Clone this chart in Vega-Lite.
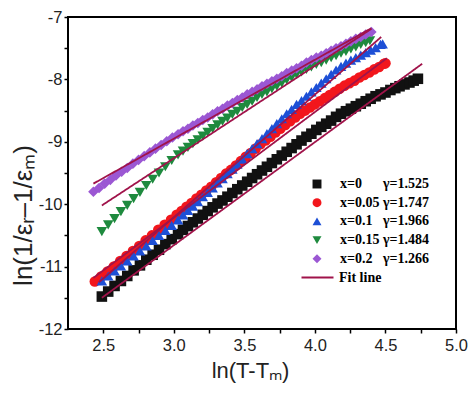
{
  "$schema": "https://vega.github.io/schema/vega-lite/v6.json",
  "width": 388,
  "height": 312,
  "autosize": {"type": "none"},
  "padding": {"left": 68, "top": 17, "right": 18, "bottom": 66},
  "background": "white",
  "config": {
    "view": {"stroke": "black", "strokeWidth": 2},
    "axis": {"domain": false, "grid": false}
  },
  "datasets": {
    "pts": [
      {"s":"x=0","x":2.49,"y":-11.48},{"s":"x=0","x":2.535,"y":-11.40},{"s":"x=0","x":2.58,"y":-11.31},{"s":"x=0","x":2.625,"y":-11.23},{"s":"x=0","x":2.67,"y":-11.15},{"s":"x=0","x":2.715,"y":-11.06},{"s":"x=0","x":2.76,"y":-10.98},{"s":"x=0","x":2.805,"y":-10.89},{"s":"x=0","x":2.85,"y":-10.81},{"s":"x=0","x":2.895,"y":-10.73},{"s":"x=0","x":2.94,"y":-10.64},{"s":"x=0","x":2.985,"y":-10.56},{"s":"x=0","x":3.03,"y":-10.48},{"s":"x=0","x":3.065,"y":-10.41},{"s":"x=0","x":3.10,"y":-10.35},{"s":"x=0","x":3.135,"y":-10.29},{"s":"x=0","x":3.17,"y":-10.23},{"s":"x=0","x":3.205,"y":-10.17},{"s":"x=0","x":3.24,"y":-10.11},{"s":"x=0","x":3.275,"y":-10.05},{"s":"x=0","x":3.31,"y":-9.99},{"s":"x=0","x":3.345,"y":-9.94},{"s":"x=0","x":3.38,"y":-9.88},{"s":"x=0","x":3.415,"y":-9.82},{"s":"x=0","x":3.45,"y":-9.76},{"s":"x=0","x":3.485,"y":-9.70},{"s":"x=0","x":3.52,"y":-9.64},{"s":"x=0","x":3.555,"y":-9.58},{"s":"x=0","x":3.59,"y":-9.52},{"s":"x=0","x":3.625,"y":-9.46},{"s":"x=0","x":3.66,"y":-9.40},{"s":"x=0","x":3.695,"y":-9.34},{"s":"x=0","x":3.73,"y":-9.28},{"s":"x=0","x":3.765,"y":-9.22},{"s":"x=0","x":3.80,"y":-9.16},{"s":"x=0","x":3.835,"y":-9.10},{"s":"x=0","x":3.87,"y":-9.04},{"s":"x=0","x":3.905,"y":-8.98},{"s":"x=0","x":3.94,"y":-8.92},{"s":"x=0","x":3.975,"y":-8.87},{"s":"x=0","x":4.01,"y":-8.81},{"s":"x=0","x":4.045,"y":-8.76},{"s":"x=0","x":4.08,"y":-8.71},{"s":"x=0","x":4.115,"y":-8.66},{"s":"x=0","x":4.15,"y":-8.60},{"s":"x=0","x":4.185,"y":-8.55},{"s":"x=0","x":4.22,"y":-8.51},{"s":"x=0","x":4.255,"y":-8.47},{"s":"x=0","x":4.29,"y":-8.43},{"s":"x=0","x":4.325,"y":-8.39},{"s":"x=0","x":4.36,"y":-8.35},{"s":"x=0","x":4.395,"y":-8.31},{"s":"x=0","x":4.43,"y":-8.27},{"s":"x=0","x":4.465,"y":-8.24},{"s":"x=0","x":4.50,"y":-8.21},{"s":"x=0","x":4.535,"y":-8.17},{"s":"x=0","x":4.57,"y":-8.14},{"s":"x=0","x":4.60,"y":-8.11},{"s":"x=0","x":4.635,"y":-8.08},{"s":"x=0","x":4.67,"y":-8.05},{"s":"x=0","x":4.70,"y":-8.02},{"s":"x=0","x":4.73,"y":-7.99},
      {"s":"x=0.05","x":2.44,"y":-11.24},{"s":"x=0.05","x":2.485,"y":-11.16},{"s":"x=0.05","x":2.53,"y":-11.08},{"s":"x=0.05","x":2.575,"y":-11.00},{"s":"x=0.05","x":2.62,"y":-10.91},{"s":"x=0.05","x":2.665,"y":-10.83},{"s":"x=0.05","x":2.71,"y":-10.75},{"s":"x=0.05","x":2.755,"y":-10.67},{"s":"x=0.05","x":2.80,"y":-10.58},{"s":"x=0.05","x":2.845,"y":-10.50},{"s":"x=0.05","x":2.89,"y":-10.41},{"s":"x=0.05","x":2.935,"y":-10.33},{"s":"x=0.05","x":2.98,"y":-10.25},{"s":"x=0.05","x":3.02,"y":-10.17},{"s":"x=0.05","x":3.055,"y":-10.11},{"s":"x=0.05","x":3.09,"y":-10.04},{"s":"x=0.05","x":3.125,"y":-9.98},{"s":"x=0.05","x":3.16,"y":-9.91},{"s":"x=0.05","x":3.195,"y":-9.85},{"s":"x=0.05","x":3.23,"y":-9.78},{"s":"x=0.05","x":3.265,"y":-9.72},{"s":"x=0.05","x":3.30,"y":-9.65},{"s":"x=0.05","x":3.335,"y":-9.58},{"s":"x=0.05","x":3.37,"y":-9.51},{"s":"x=0.05","x":3.405,"y":-9.45},{"s":"x=0.05","x":3.44,"y":-9.38},{"s":"x=0.05","x":3.475,"y":-9.31},{"s":"x=0.05","x":3.51,"y":-9.24},{"s":"x=0.05","x":3.545,"y":-9.18},{"s":"x=0.05","x":3.58,"y":-9.11},{"s":"x=0.05","x":3.615,"y":-9.04},{"s":"x=0.05","x":3.65,"y":-8.98},{"s":"x=0.05","x":3.685,"y":-8.92},{"s":"x=0.05","x":3.72,"y":-8.85},{"s":"x=0.05","x":3.755,"y":-8.79},{"s":"x=0.05","x":3.79,"y":-8.73},{"s":"x=0.05","x":3.825,"y":-8.67},{"s":"x=0.05","x":3.86,"y":-8.61},{"s":"x=0.05","x":3.895,"y":-8.55},{"s":"x=0.05","x":3.93,"y":-8.50},{"s":"x=0.05","x":3.965,"y":-8.45},{"s":"x=0.05","x":4.00,"y":-8.40},{"s":"x=0.05","x":4.035,"y":-8.35},{"s":"x=0.05","x":4.07,"y":-8.30},{"s":"x=0.05","x":4.105,"y":-8.25},{"s":"x=0.05","x":4.14,"y":-8.20},{"s":"x=0.05","x":4.175,"y":-8.15},{"s":"x=0.05","x":4.21,"y":-8.10},{"s":"x=0.05","x":4.245,"y":-8.06},{"s":"x=0.05","x":4.28,"y":-8.02},{"s":"x=0.05","x":4.315,"y":-7.97},{"s":"x=0.05","x":4.35,"y":-7.93},{"s":"x=0.05","x":4.385,"y":-7.89},{"s":"x=0.05","x":4.42,"y":-7.84},{"s":"x=0.05","x":4.455,"y":-7.80},{"s":"x=0.05","x":4.49,"y":-7.75},{"s":"x=0.05","x":4.50,"y":-7.74},
      {"s":"x=0.1","x":2.49,"y":-11.23},{"s":"x=0.1","x":2.535,"y":-11.15},{"s":"x=0.1","x":2.58,"y":-11.07},{"s":"x=0.1","x":2.625,"y":-10.99},{"s":"x=0.1","x":2.67,"y":-10.91},{"s":"x=0.1","x":2.715,"y":-10.83},{"s":"x=0.1","x":2.76,"y":-10.75},{"s":"x=0.1","x":2.805,"y":-10.67},{"s":"x=0.1","x":2.85,"y":-10.58},{"s":"x=0.1","x":2.895,"y":-10.50},{"s":"x=0.1","x":2.94,"y":-10.42},{"s":"x=0.1","x":2.985,"y":-10.34},{"s":"x=0.1","x":3.03,"y":-10.25},{"s":"x=0.1","x":3.065,"y":-10.17},{"s":"x=0.1","x":3.10,"y":-10.10},{"s":"x=0.1","x":3.135,"y":-10.03},{"s":"x=0.1","x":3.17,"y":-9.96},{"s":"x=0.1","x":3.205,"y":-9.88},{"s":"x=0.1","x":3.24,"y":-9.81},{"s":"x=0.1","x":3.275,"y":-9.74},{"s":"x=0.1","x":3.31,"y":-9.66},{"s":"x=0.1","x":3.345,"y":-9.59},{"s":"x=0.1","x":3.38,"y":-9.51},{"s":"x=0.1","x":3.415,"y":-9.44},{"s":"x=0.1","x":3.45,"y":-9.36},{"s":"x=0.1","x":3.485,"y":-9.28},{"s":"x=0.1","x":3.52,"y":-9.19},{"s":"x=0.1","x":3.555,"y":-9.11},{"s":"x=0.1","x":3.59,"y":-9.03},{"s":"x=0.1","x":3.625,"y":-8.95},{"s":"x=0.1","x":3.66,"y":-8.87},{"s":"x=0.1","x":3.695,"y":-8.79},{"s":"x=0.1","x":3.73,"y":-8.71},{"s":"x=0.1","x":3.765,"y":-8.63},{"s":"x=0.1","x":3.80,"y":-8.55},{"s":"x=0.1","x":3.835,"y":-8.48},{"s":"x=0.1","x":3.87,"y":-8.40},{"s":"x=0.1","x":3.905,"y":-8.34},{"s":"x=0.1","x":3.94,"y":-8.27},{"s":"x=0.1","x":3.975,"y":-8.20},{"s":"x=0.1","x":4.01,"y":-8.13},{"s":"x=0.1","x":4.045,"y":-8.06},{"s":"x=0.1","x":4.08,"y":-7.99},{"s":"x=0.1","x":4.115,"y":-7.92},{"s":"x=0.1","x":4.15,"y":-7.85},{"s":"x=0.1","x":4.185,"y":-7.79},{"s":"x=0.1","x":4.22,"y":-7.74},{"s":"x=0.1","x":4.255,"y":-7.69},{"s":"x=0.1","x":4.29,"y":-7.65},{"s":"x=0.1","x":4.325,"y":-7.61},{"s":"x=0.1","x":4.36,"y":-7.57},{"s":"x=0.1","x":4.395,"y":-7.53},{"s":"x=0.1","x":4.43,"y":-7.49},{"s":"x=0.1","x":4.465,"y":-7.44},{"s":"x=0.1","x":4.48,"y":-7.43},
      {"s":"x=0.15","x":2.49,"y":-10.44},{"s":"x=0.15","x":2.535,"y":-10.33},{"s":"x=0.15","x":2.58,"y":-10.23},{"s":"x=0.15","x":2.625,"y":-10.12},{"s":"x=0.15","x":2.67,"y":-10.02},{"s":"x=0.15","x":2.715,"y":-9.91},{"s":"x=0.15","x":2.76,"y":-9.81},{"s":"x=0.15","x":2.805,"y":-9.70},{"s":"x=0.15","x":2.85,"y":-9.60},{"s":"x=0.15","x":2.895,"y":-9.50},{"s":"x=0.15","x":2.94,"y":-9.40},{"s":"x=0.15","x":2.985,"y":-9.30},{"s":"x=0.15","x":3.03,"y":-9.21},{"s":"x=0.15","x":3.065,"y":-9.15},{"s":"x=0.15","x":3.10,"y":-9.09},{"s":"x=0.15","x":3.135,"y":-9.03},{"s":"x=0.15","x":3.17,"y":-8.97},{"s":"x=0.15","x":3.205,"y":-8.91},{"s":"x=0.15","x":3.24,"y":-8.85},{"s":"x=0.15","x":3.275,"y":-8.79},{"s":"x=0.15","x":3.31,"y":-8.73},{"s":"x=0.15","x":3.345,"y":-8.67},{"s":"x=0.15","x":3.38,"y":-8.62},{"s":"x=0.15","x":3.415,"y":-8.56},{"s":"x=0.15","x":3.45,"y":-8.51},{"s":"x=0.15","x":3.485,"y":-8.45},{"s":"x=0.15","x":3.52,"y":-8.40},{"s":"x=0.15","x":3.555,"y":-8.35},{"s":"x=0.15","x":3.59,"y":-8.29},{"s":"x=0.15","x":3.625,"y":-8.24},{"s":"x=0.15","x":3.66,"y":-8.20},{"s":"x=0.15","x":3.695,"y":-8.15},{"s":"x=0.15","x":3.73,"y":-8.11},{"s":"x=0.15","x":3.765,"y":-8.06},{"s":"x=0.15","x":3.80,"y":-8.01},{"s":"x=0.15","x":3.835,"y":-7.97},{"s":"x=0.15","x":3.87,"y":-7.92},{"s":"x=0.15","x":3.905,"y":-7.88},{"s":"x=0.15","x":3.94,"y":-7.84},{"s":"x=0.15","x":3.975,"y":-7.80},{"s":"x=0.15","x":4.01,"y":-7.76},{"s":"x=0.15","x":4.045,"y":-7.73},{"s":"x=0.15","x":4.08,"y":-7.69},{"s":"x=0.15","x":4.115,"y":-7.65},{"s":"x=0.15","x":4.15,"y":-7.62},{"s":"x=0.15","x":4.185,"y":-7.58},{"s":"x=0.15","x":4.22,"y":-7.55},{"s":"x=0.15","x":4.255,"y":-7.51},{"s":"x=0.15","x":4.29,"y":-7.48},{"s":"x=0.15","x":4.325,"y":-7.44},{"s":"x=0.15","x":4.36,"y":-7.41},{"s":"x=0.15","x":4.39,"y":-7.38},
      {"s":"x=0.2","x":2.43,"y":-9.80},{"s":"x=0.2","x":2.47,"y":-9.74},{"s":"x=0.2","x":2.51,"y":-9.67},{"s":"x=0.2","x":2.55,"y":-9.61},{"s":"x=0.2","x":2.59,"y":-9.54},{"s":"x=0.2","x":2.63,"y":-9.48},{"s":"x=0.2","x":2.67,"y":-9.42},{"s":"x=0.2","x":2.71,"y":-9.35},{"s":"x=0.2","x":2.75,"y":-9.29},{"s":"x=0.2","x":2.79,"y":-9.23},{"s":"x=0.2","x":2.83,"y":-9.17},{"s":"x=0.2","x":2.87,"y":-9.11},{"s":"x=0.2","x":2.91,"y":-9.05},{"s":"x=0.2","x":2.95,"y":-8.99},{"s":"x=0.2","x":2.99,"y":-8.93},{"s":"x=0.2","x":3.03,"y":-8.88},{"s":"x=0.2","x":3.065,"y":-8.83},{"s":"x=0.2","x":3.10,"y":-8.79},{"s":"x=0.2","x":3.135,"y":-8.74},{"s":"x=0.2","x":3.17,"y":-8.70},{"s":"x=0.2","x":3.205,"y":-8.65},{"s":"x=0.2","x":3.24,"y":-8.61},{"s":"x=0.2","x":3.275,"y":-8.56},{"s":"x=0.2","x":3.31,"y":-8.51},{"s":"x=0.2","x":3.345,"y":-8.47},{"s":"x=0.2","x":3.38,"y":-8.42},{"s":"x=0.2","x":3.415,"y":-8.38},{"s":"x=0.2","x":3.45,"y":-8.33},{"s":"x=0.2","x":3.485,"y":-8.29},{"s":"x=0.2","x":3.52,"y":-8.24},{"s":"x=0.2","x":3.555,"y":-8.20},{"s":"x=0.2","x":3.59,"y":-8.16},{"s":"x=0.2","x":3.625,"y":-8.11},{"s":"x=0.2","x":3.66,"y":-8.07},{"s":"x=0.2","x":3.695,"y":-8.03},{"s":"x=0.2","x":3.73,"y":-7.99},{"s":"x=0.2","x":3.765,"y":-7.95},{"s":"x=0.2","x":3.80,"y":-7.90},{"s":"x=0.2","x":3.835,"y":-7.86},{"s":"x=0.2","x":3.87,"y":-7.82},{"s":"x=0.2","x":3.905,"y":-7.78},{"s":"x=0.2","x":3.94,"y":-7.73},{"s":"x=0.2","x":3.975,"y":-7.69},{"s":"x=0.2","x":4.01,"y":-7.65},{"s":"x=0.2","x":4.045,"y":-7.62},{"s":"x=0.2","x":4.08,"y":-7.58},{"s":"x=0.2","x":4.115,"y":-7.54},{"s":"x=0.2","x":4.15,"y":-7.50},{"s":"x=0.2","x":4.185,"y":-7.47},{"s":"x=0.2","x":4.22,"y":-7.43},{"s":"x=0.2","x":4.255,"y":-7.39},{"s":"x=0.2","x":4.29,"y":-7.35},{"s":"x=0.2","x":4.325,"y":-7.32},{"s":"x=0.2","x":4.36,"y":-7.28},{"s":"x=0.2","x":4.40,"y":-7.24}
    ],
    "fits": [
      {"s":"x=0","x":2.49,"y":-11.50},{"s":"x=0","x":4.76,"y":-7.75},
      {"s":"x=0.05","x":2.43,"y":-11.18},{"s":"x=0.05","x":4.51,"y":-7.66},
      {"s":"x=0.1","x":2.47,"y":-11.25},{"s":"x=0.1","x":4.47,"y":-7.32},
      {"s":"x=0.15","x":2.49,"y":-10.02},{"s":"x=0.15","x":4.40,"y":-7.19},
      {"s":"x=0.2","x":2.43,"y":-9.67},{"s":"x=0.2","x":4.40,"y":-7.18}
    ]
  },
  "encoding": {
    "x": {
      "field": "x", "type": "quantitative",
      "scale": {"domain": [2.25, 5.0], "nice": false, "zero": false},
      "axis": {
        "values": [2.5, 2.75, 3, 3.25, 3.5, 3.75, 4, 4.25, 4.5, 4.75, 5],
        "labelExpr": "(datum.value*2)%1===0 ? format(datum.value,'.1f') : ''",
        "labelFlush": false, "labelOverlap": false,
        "tickSize": 4, "tickColor": "black", "tickWidth": 1.5,
        "labelPadding": 4,
        "labelFont": "Liberation Sans", "labelFontSize": 16.5, "labelColor": "#222",
        "encode": {"ticks": {"update": {"y2": {"signal": "(datum.value*2)%1===0 ? -5 : -3"}}}},
        "title": "ln(T-Tₘ)",
        "titleFont": "Liberation Sans", "titleFontSize": 22, "titleFontWeight": "normal", "titleColor": "#222",
        "titlePadding": 7, "titleX": 182
      }
    },
    "y": {
      "field": "y", "type": "quantitative",
      "scale": {"domain": [-12, -7], "nice": false, "zero": false},
      "axis": {
        "values": [-12, -11.5, -11, -10.5, -10, -9.5, -9, -8.5, -8, -7.5, -7],
        "labelExpr": "datum.value%1===0 ? datum.value + '' : ''",
        "labelFlush": false, "labelOverlap": false,
        "tickSize": 4, "tickColor": "black", "tickWidth": 1.5,
        "labelPadding": 2,
        "labelFont": "Liberation Sans", "labelFontSize": 16.5, "labelColor": "#222",
        "encode": {"ticks": {"update": {"x2": {"signal": "datum.value%1===0 ? 5 : 3"}}}},
        "title": "ln(1/εᵣ–1/εₘ)",
        "titleFont": "Liberation Sans", "titleFontSize": 26, "titleFontWeight": "normal", "titleColor": "#222",
        "titlePadding": 2, "titleY": 198
      }
    }
  },
  "layer": [
    {
      "data": {"name": "pts"},
      "mark": {"type": "point", "filled": true, "size": 112, "opacity": 1, "strokeWidth": 0},
      "encoding": {
        "color": {
          "field": "s", "type": "nominal",
          "scale": {"domain": ["x=0", "x=0.05", "x=0.1", "x=0.15", "x=0.2"], "range": ["#111111", "#F2161C", "#1D4FD6", "#1E8A3E", "#9B57D3"]},
          "legend": {
            "orient": "none", "legendX": 242, "legendY": 160, "title": null, "padding": 0,
            "symbolSize": 80, "labelOffset": 16, "rowPadding": 4.7,
            "labelFont": "Liberation Serif", "labelFontSize": 14, "labelFontWeight": "bold", "labelColor": "black",
            "labelExpr": "datum.label==='x=0' ? 'x=0\u00a0\u00a0\u00a0\u00a0\u00a0\u00a0γ=1.525' : datum.label==='x=0.05' ? 'x=0.05\u00a0γ=1.747' : datum.label==='x=0.1' ? 'x=0.1\u00a0\u00a0\u00a0γ=1.966' : datum.label==='x=0.15' ? 'x=0.15\u00a0γ=1.484' : 'x=0.2\u00a0\u00a0\u00a0γ=1.266'"
          }
        },
        "shape": {
          "field": "s", "type": "nominal",
          "scale": {"domain": ["x=0", "x=0.05", "x=0.1", "x=0.15", "x=0.2"], "range": ["square", "circle", "triangle-up", "triangle-down", "diamond"]},
          "legend": {
            "orient": "none", "legendX": 242, "legendY": 160, "title": null, "padding": 0,
            "symbolSize": 80, "labelOffset": 16, "rowPadding": 4.7,
            "labelFont": "Liberation Serif", "labelFontSize": 14, "labelFontWeight": "bold", "labelColor": "black",
            "labelExpr": "datum.label==='x=0' ? 'x=0\u00a0\u00a0\u00a0\u00a0\u00a0\u00a0γ=1.525' : datum.label==='x=0.05' ? 'x=0.05\u00a0γ=1.747' : datum.label==='x=0.1' ? 'x=0.1\u00a0\u00a0\u00a0γ=1.966' : datum.label==='x=0.15' ? 'x=0.15\u00a0γ=1.484' : 'x=0.2\u00a0\u00a0\u00a0γ=1.266'"
          }
        }
      }
    },
    {
      "data": {"name": "fits"},
      "mark": {"type": "line", "color": "#A0134A", "strokeWidth": 1.8},
      "encoding": {
        "detail": {"field": "s", "type": "nominal"},
        "strokeDash": {
          "datum": "Fit line", "type": "nominal",
          "scale": {"range": [[1, 0]]},
          "legend": {
            "orient": "none", "legendX": 232, "legendY": 243, "title": null, "padding": 0,
            "symbolSize": 1024, "symbolStrokeWidth": 2.2, "symbolStrokeColor": "#A0134A", "labelOffset": 4,
            "labelFont": "Liberation Serif", "labelFontSize": 14, "labelFontWeight": "bold", "labelColor": "black"
          }
        }
      }
    }
  ]
}
